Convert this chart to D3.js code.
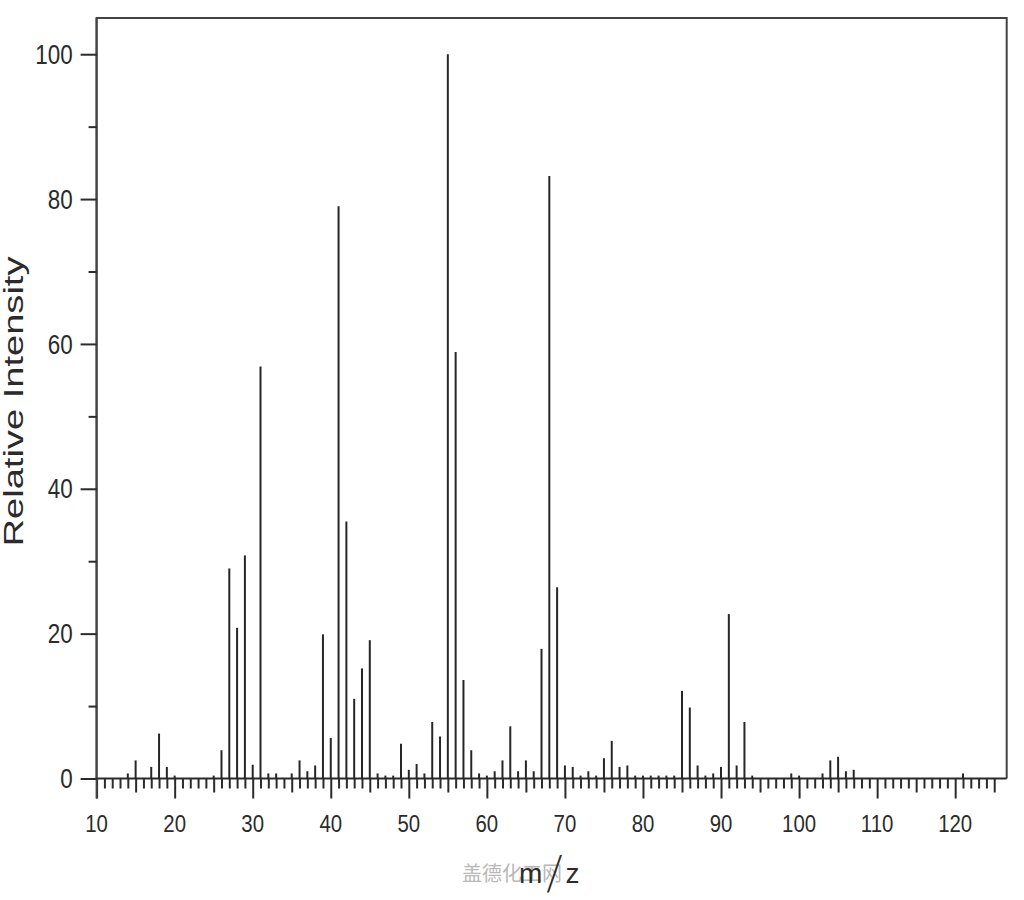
<!DOCTYPE html>
<html>
<head>
<meta charset="utf-8">
<script src="https://cdn.jsdelivr.net/npm/d3@7"></script>
<style>
  html, body { margin: 0; padding: 0; background: #fff; }
  svg { display: block; }
</style>
</head>
<body>
<svg id="chart" width="1024" height="900"></svg>
<script>
// ---- data ----
const mz = [14,15,17,18,19,20,25,26,27,28,29,30,31,32,33,35,36,37,38,39,40,41,42,43,44,45,46,47,48,49,50,51,52,53,54,55,56,57,58,59,60,61,62,63,64,65,66,67,68,69,70,71,72,73,74,75,76,77,78,79,80,81,82,83,84,85,86,87,88,89,90,91,92,93,94,99,100,103,104,105,106,107,121];
const intensity = [0.7,2.5,1.6,6.2,1.6,0.4,0.4,3.9,29.0,20.8,30.8,1.9,56.9,0.7,0.7,0.7,2.5,1.0,1.8,19.9,5.6,79.0,35.5,11.0,15.2,19.1,0.7,0.4,0.4,4.8,1.2,2.0,0.7,7.8,5.8,100,58.9,13.6,3.9,0.7,0.4,1.0,2.5,7.2,1.0,2.5,1.0,17.9,83.2,26.4,1.8,1.6,0.4,1.0,0.4,2.8,5.2,1.6,1.8,0.4,0.4,0.4,0.4,0.4,0.4,12.1,9.8,1.8,0.4,0.7,1.6,22.7,1.8,7.8,0.4,0.7,0.4,0.7,2.5,3.0,1.0,1.2,0.7];
const xTickValues = d3.range(10, 126, 1);
const xLabelValues = [10,20,30,40,50,60,70,80,90,100,110,120];
const yTickValues = [0,10,20,30,40,50,60,70,80,90,100];
const yLabelValues = [0,20,40,60,80,100];
const xTitle = ["m", "/", "z"];
const yTitle = "Relative Intensity";
const watermark = "盖德化工网";

// ---- layout ----
const svg = d3.select("#chart");
const L = 96.6, R = 1006.7, T = 18, B = 778.5;
const x = d3.scaleLinear().domain([10, 126.6]).range([L, R]);
const y = d3.scaleLinear().domain([0, 105]).range([B, T]);
const ink = "#2b2b2b";
const font = "'Liberation Sans', Arial, sans-serif";

svg.append("rect").attr("width", 1024).attr("height", 900).attr("fill", "#fff");

// watermark (under everything)
svg.append("text")
  .attr("x", 462).attr("y", 881)
  .attr("font-family", "'Noto Sans CJK SC', sans-serif")
  .attr("font-size", 20)
  .attr("fill", "#b8b8b8")
  .text(watermark);

// frame
svg.append("path")
  .attr("d", `M${L},${B} L${L},${T} L${R},${T} L${R},${B}`)
  .attr("fill", "none").attr("stroke", "#444").attr("stroke-width", 2);

// x axis
const xAxis = d3.axisBottom(x).tickValues(xTickValues).tickSizeOuter(0).tickFormat("");
const gx = svg.append("g").attr("transform", `translate(0,${B})`).call(xAxis);
gx.select(".domain").attr("stroke", ink).attr("stroke-width", 2)
  .attr("d", `M${L},0H${R}`);
gx.selectAll(".tick line")
  .attr("stroke", ink).attr("stroke-width", 2)
  .attr("y2", d => d % 10 === 0 ? 20 : (d % 5 === 0 ? 14 : 10));

svg.append("g").selectAll("text").data(xLabelValues).join("text")
  .attr("transform", d => `translate(${x(d)},831.7) scale(0.876,1)`)
  .attr("text-anchor", "middle")
  .attr("font-family", font).attr("font-size", 23.3)
  .attr("fill", ink)
  .text(d => d);

// y axis
const yAxis = d3.axisLeft(y).tickValues(yTickValues).tickSizeOuter(0).tickFormat("");
const gy = svg.append("g").attr("transform", `translate(${L},0)`).call(yAxis);
gy.select(".domain").attr("stroke", "#444").attr("stroke-width", 2)
  .attr("d", `M0,${T}V${B + 20}`);
gy.selectAll(".tick line")
  .attr("stroke", ink).attr("stroke-width", 2)
  .attr("x2", d => d % 20 === 0 ? -16 : -8);

svg.append("g").selectAll("text").data(yLabelValues).join("text")
  .attr("transform", d => `translate(72.7,${y(d) + 9.6}) scale(0.83,1)`)
  .attr("text-anchor", "end")
  .attr("font-family", font).attr("font-size", 27)
  .attr("fill", ink)
  .text(d => d);

// peaks
const peaks = mz.map((m, i) => ({ m, v: intensity[i] }));
svg.append("g").selectAll("line").data(peaks).join("line")
  .attr("x1", d => x(d.m)).attr("x2", d => x(d.m))
  .attr("y1", y(0)).attr("y2", d => y(d.v))
  .attr("stroke", "#262626").attr("stroke-width", 2);

// y title
svg.append("text")
  .attr("transform", "translate(22.5,401.5) rotate(-90)")
  .attr("text-anchor", "middle")
  .attr("font-family", font).attr("font-size", 27)
  .attr("textLength", 290).attr("lengthAdjust", "spacingAndGlyphs")
  .attr("fill", ink)
  .text(yTitle);

// x title: m / z
svg.append("text")
  .attr("x", 519).attr("y", 882.7)
  .attr("font-family", font).attr("font-size", 28)
  .attr("fill", ink)
  .text(xTitle[0]);
svg.append("text")
  .attr("transform", "translate(547,892) skewX(-12) scale(0.5,1)")
  .attr("font-family", font).attr("font-size", 51)
  .attr("fill", ink)
  .text(xTitle[1]);
svg.append("text")
  .attr("x", 565.5).attr("y", 882.7)
  .attr("font-family", font).attr("font-size", 28)
  .attr("fill", ink)
  .text(xTitle[2]);
</script>
</body>
</html>
